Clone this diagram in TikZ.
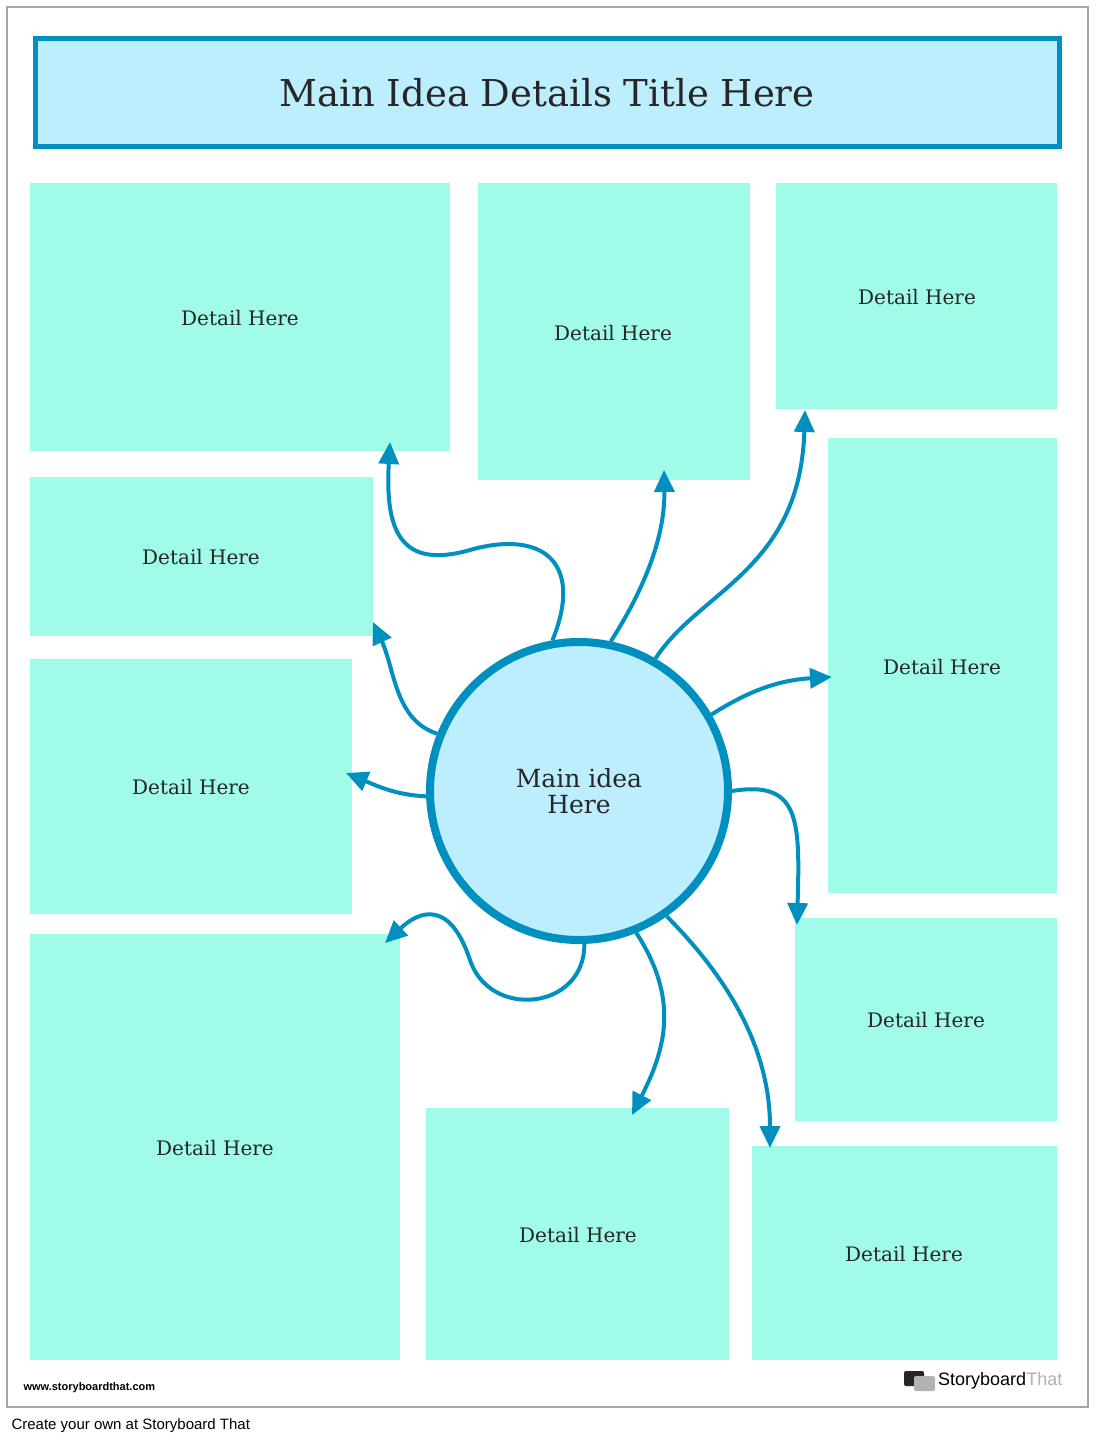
\documentclass[tikz,border=0pt]{standalone}
\usepackage{fontspec}
\setmainfont{DejaVu Serif}
\newfontfamily\sansf{Liberation Sans}
\usetikzlibrary{arrows.meta}
\definecolor{boxc}{HTML}{A0FBE8}
\definecolor{lblue}{HTML}{BDEEFD}
\definecolor{dblue}{HTML}{0090C0}
\tikzset{
 dbox/.style={fill=boxc,draw=none},
 dtext/.style={font=\fontsize{20}{24}\selectfont,text=black!85},
 arr/.style={draw=dblue,line width=4pt,-{Triangle[length=22pt,width=20pt]}}
}
\begin{document}
\begin{tikzpicture}[x=1pt,y=-1pt]
\useasboundingbox (0,0) rectangle (1096,1445);
\fill[white] (0,0) rectangle (1096,1445);
\draw[gray!70,line width=1.5pt] (7,7) rectangle (1088,1407);
\node[draw=dblue,fill=lblue,line width=5pt,minimum width=1024pt,minimum height=107pt,font=\fontsize{37}{44}\selectfont,text=black!85] (title) at (547,92.5) {Main Idea Details Title Here};
\fill[dbox] (30,183) rectangle (450,451); \node[dtext] (a) at (240,318) {Detail Here};
\fill[dbox] (478,183) rectangle (750,480); \node[dtext] (b) at (613,333) {Detail Here};
\fill[dbox] (776,183) rectangle (1057,409); \node[dtext] (c) at (917,297) {Detail Here};
\fill[dbox] (30,477) rectangle (373,636); \node[dtext] (d) at (201,557) {Detail Here};
\fill[dbox] (828,438) rectangle (1057,893); \node[dtext] (e) at (942,667) {Detail Here};
\fill[dbox] (30,659) rectangle (352,914); \node[dtext] (f) at (191,787) {Detail Here};
\fill[dbox] (795,918) rectangle (1057,1121); \node[dtext] (g) at (926,1020) {Detail Here};
\fill[dbox] (30,934) rectangle (400,1360); \node[dtext] (h) at (215,1148) {Detail Here};
\fill[dbox] (426,1108) rectangle (729,1360); \node[dtext] (i) at (578,1235) {Detail Here};
\fill[dbox] (752,1146) rectangle (1057,1360); \node[dtext] (j) at (904,1254) {Detail Here};
\node[circle,draw=dblue,fill=lblue,line width=8pt,minimum size=298pt,align=center,font=\fontsize{25}{26}\selectfont,text=black!85] (m) at (579,791) {Main idea\\Here};
\coordinate (t1) at (390,442); \coordinate (t2) at (664,470); \coordinate (t3) at (805,410);
\coordinate (t4) at (832,677); \coordinate (t5) at (797,925); \coordinate (t6) at (770,1148);
\coordinate (t7) at (632,1115); \coordinate (t8) at (385,943); \coordinate (t9) at (346,773);
\coordinate (t10) at (373,622);
\draw[arr] (m.100) .. controls (585,560) and (540,530) .. (470,550) .. controls (400,570) and (385,530) .. (t1);
\draw[arr] (m.78) .. controls (650,580) and (665,530) .. (t2);
\draw[arr] (m.60) .. controls (700,590) and (800,570) .. (t3);
\draw[arr] (m.30) .. controls (750,690) and (780,680) .. (t4);
\draw[arr] (m.0) .. controls (800,780) and (800,820) .. (t5);
\draw[arr] (m.-55) .. controls (730,980) and (770,1050) .. (t6);
\draw[arr] (m.-68) .. controls (680,1000) and (665,1050) .. (t7);
\draw[arr] (m.-88) .. controls (585,1010) and (490,1020) .. (470,960) .. controls (450,900) and (420,910) .. (t8);
\draw[arr] (m.182) .. controls (395,795) and (375,785) .. (t9);
\draw[arr] (m.158) .. controls (395,720) and (395,670) .. (t10);
\node[anchor=west,font=\sansf\bfseries\fontsize{11}{12}\selectfont] (w) at (20,1388) {www.storyboardthat.com};
\node[anchor=west,font=\sansf\fontsize{15}{17}\selectfont] (cr) at (8,1426) {Create your own at Storyboard That};
\fill[black!85,rounded corners=2pt] (904,1371) rectangle (924,1386);
\fill[gray!60,rounded corners=2pt] (914,1376) rectangle (935,1391);
\node[anchor=west,font=\sansf\fontsize{18}{20}\selectfont,inner sep=0pt] (logo) at (938,1381) {Storyboard\textcolor{gray!60}{That}};
\end{tikzpicture}
\end{document}
